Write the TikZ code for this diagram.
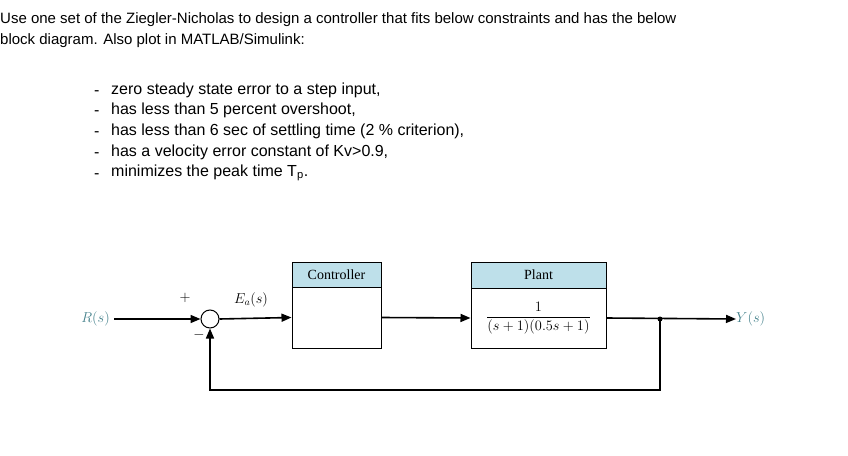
\documentclass[tikz,border=0pt]{standalone}
\usepackage{fontspec}
\setmainfont{Liberation Serif}
\newfontfamily\arialf{Liberation Sans}
\usetikzlibrary{arrows.meta}
\definecolor{hdr}{RGB}{190,224,234}
\definecolor{sig}{RGB}{70,130,140}
\begin{document}
\begin{tikzpicture}[x=1pt,y=-1pt,
  every node/.style={font=\fontsize{14}{16}\selectfont},
  wire/.style={line width=1.6pt},
  arr/.style={wire,-{Triangle[length=10pt,width=8pt]}},
  hbox/.style={draw,line width=1pt,fill=hdr,inner sep=0pt},
  bbox/.style={draw,line width=1pt,inner sep=0pt},
  txt/.style={anchor=west,inner sep=0pt,font=\arialf\fontsize{15}{18}\selectfont},
  bul/.style={anchor=west,inner sep=0pt,font=\arialf\fontsize{16}{18}\selectfont}]
\useasboundingbox (0,0) rectangle (848,455);
\node[txt] (t1) at (0,20) {Use one set of the Ziegler-Nicholas to design a controller that fits below constraints and has the below};
\node[txt] (t2) at (0,41) {block diagram. Also plot in MATLAB/Simulink:};
\foreach \y/\s [count=\i] in {90/{zero steady state error to a step input,},110/{has less than 5 percent overshoot,},131/{has less than 6 sec of settling time (2 \% criterion),},152/{has a velocity error constant of Kv>0.9,},173/{minimizes the peak time T\textsubscript{p}.}}{
  \node[bul] (d\i) at (94,\y+3) {-};
  \node[bul] (b\i) at (111,\y) {\s};
}
% controller
\node[hbox,minimum width=89pt,minimum height=25pt] (ch) at (336.5,274.5) {Controller};
\node[bbox,minimum width=89pt,minimum height=61pt] (cb) at (336.5,317.5) {};
% plant
\node[hbox,minimum width=135pt,minimum height=26pt] (ph) at (538.5,275) {Plant};
\node[bbox,minimum width=135pt,minimum height=60pt] (pb) at (538.5,318) {$\displaystyle\frac{1}{(s+1)(0.5s+1)}$};
% sum
\node[draw,circle,line width=1pt,minimum size=18pt,inner sep=0pt] (sum) at (210,319) {};
\node[text=sig,anchor=east,inner sep=0pt] (R) at (110,319) {$R(s)$};
\node[text=sig,anchor=west,inner sep=0pt] (Y) at (736,319) {$Y(s)$};
\node (plus) at (185,298) {$+$};
\node (minus) at (199,335) {$-$};
\node (ea) at (251,300) {$E_a(s)$};
\coordinate (j) at (660,319);
\coordinate (fb1) at (660,390);
\coordinate (fb2) at (210,390);
\draw[arr] (R.east) ++(4,0) -- (sum.west);
\draw[arr] (sum.east) -- (cb.west);
\draw[arr] (cb.east) -- (pb.west);
\draw[arr] (pb.east) -- (Y.west);
\fill (j) circle (2.5pt);
\draw[arr] (j) -- (fb1) -- (fb2) -- (sum.south);
\end{tikzpicture}
\end{document}
